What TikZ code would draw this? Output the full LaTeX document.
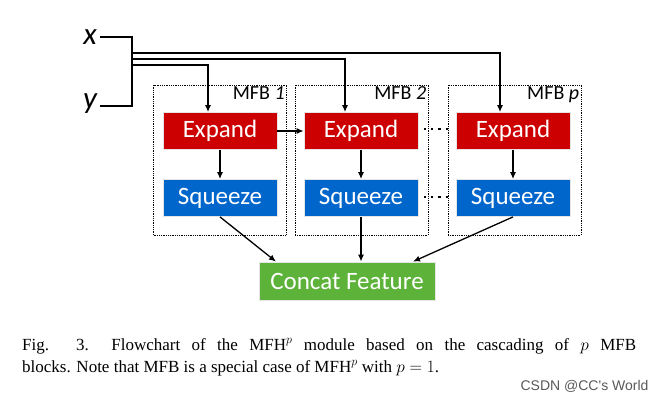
\documentclass[tikz,border=0pt]{standalone}
\usepackage{fontspec}
\setmainfont{Liberation Serif}
\newfontfamily\calfont{Carlito}
\newfontfamily\wmfont{Liberation Sans}
\usetikzlibrary{arrows.meta}
\definecolor{cred}{HTML}{CC0000}
\definecolor{cblue}{HTML}{0066CC}
\definecolor{cgreen}{HTML}{5DB33A}
\begin{document}
\begin{tikzpicture}[x=1pt,y=-1pt,
  blk/.style={draw=white!80!gray,line width=0.8pt,minimum width=114pt,minimum height=37pt,inner sep=0,text=white,font=\calfont\fontsize{25}{25}\selectfont},
  ex/.style={blk,fill=cred},
  sq/.style={blk,fill=cblue},
  mfb/.style={draw,densely dotted,line width=0.8pt,minimum width=133pt,minimum height=150pt,inner sep=0},
  lbl/.style={font=\calfont\fontsize{20}{20}\selectfont,anchor=north east,inner sep=2pt},
  ar/.style={-{Latex[length=7pt,width=6pt]},line width=1.3pt},
  ln/.style={line width=1.3pt},
  dots/.style={line width=2.2pt,dash pattern=on 2.2pt off 5pt}]
\useasboundingbox (0,0) rectangle (665,404);
\node[mfb] (b1) at (220,160) {};
\node[mfb] (b2) at (361.5,160) {};
\node[mfb] (bp) at (514.5,160) {};
\node[lbl] (l1) at (b1.north east) {MFB \textit{1}};
\node[lbl] (l2) at (b2.north east) {MFB \textit{2}};
\node[lbl] (lp) at (bp.north east) {MFB \textit{p}};
\node[ex] (e1) at (220,131) {Expand};
\node[ex] (e2) at (361,131) {Expand};
\node[ex] (ep) at (513,131) {Expand};
\node[sq] (s1) at (220,198) {Squeeze};
\node[sq] (s2) at (361,198) {Squeeze};
\node[sq] (sp) at (513,198) {Squeeze};
\node[blk,fill=cgreen,minimum width=176pt,minimum height=38pt] (cf) at (347,281) {Concat Feature};
\node[font=\calfont\itshape\fontsize{31}{31}\selectfont] (x) at (90,37) {x};
\node[font=\calfont\itshape\fontsize{31}{31}\selectfont] (y) at (90,104) {y};
\coordinate (j) at (132,37);
\coordinate (k) at (132,106);
\draw[ln] (x.east) -- (j) -- (k) -- (y.east |- k);
\draw[ar] (132,65) -| (e1.north -| 208,0);
\draw[ar] (132,59) -| (e2.north -| 345,0);
\draw[ar] (132,53) -| (ep.north -| 500,0);
\draw[ar] (e1) -- (e2);
\draw[ar] (e1) -- (s1);
\draw[ar] (e2) -- (s2);
\draw[ar] (ep) -- (sp);
\draw[ar] (s1.south) -- (cf.north west -| 276,0);
\draw[ar] (s2.south) -- (cf.north -| s2);
\draw[ar] (sp.south) -- (cf.north east -| 413,0);
\draw[dots] (424,129) -- (452,129);
\draw[dots] (424,197) -- (452,197);
\node[anchor=north west,inner sep=0,text width=614pt,align=justify,font=\fontsize{17}{22}\selectfont] (cap) at (22,338)
{Fig. 3.\ \ Flowchart of the MFH$^p$ module based on the cascading of $p$ MFB\linebreak blocks. Note that MFB is a special case of MFH$^p$ with $p=1$.};
\node[anchor=east,font=\wmfont\fontsize{14}{14}\selectfont,text=gray!70!black] (wm) at (652,386) {CSDN @CC's World};
\end{tikzpicture}
\end{document}
